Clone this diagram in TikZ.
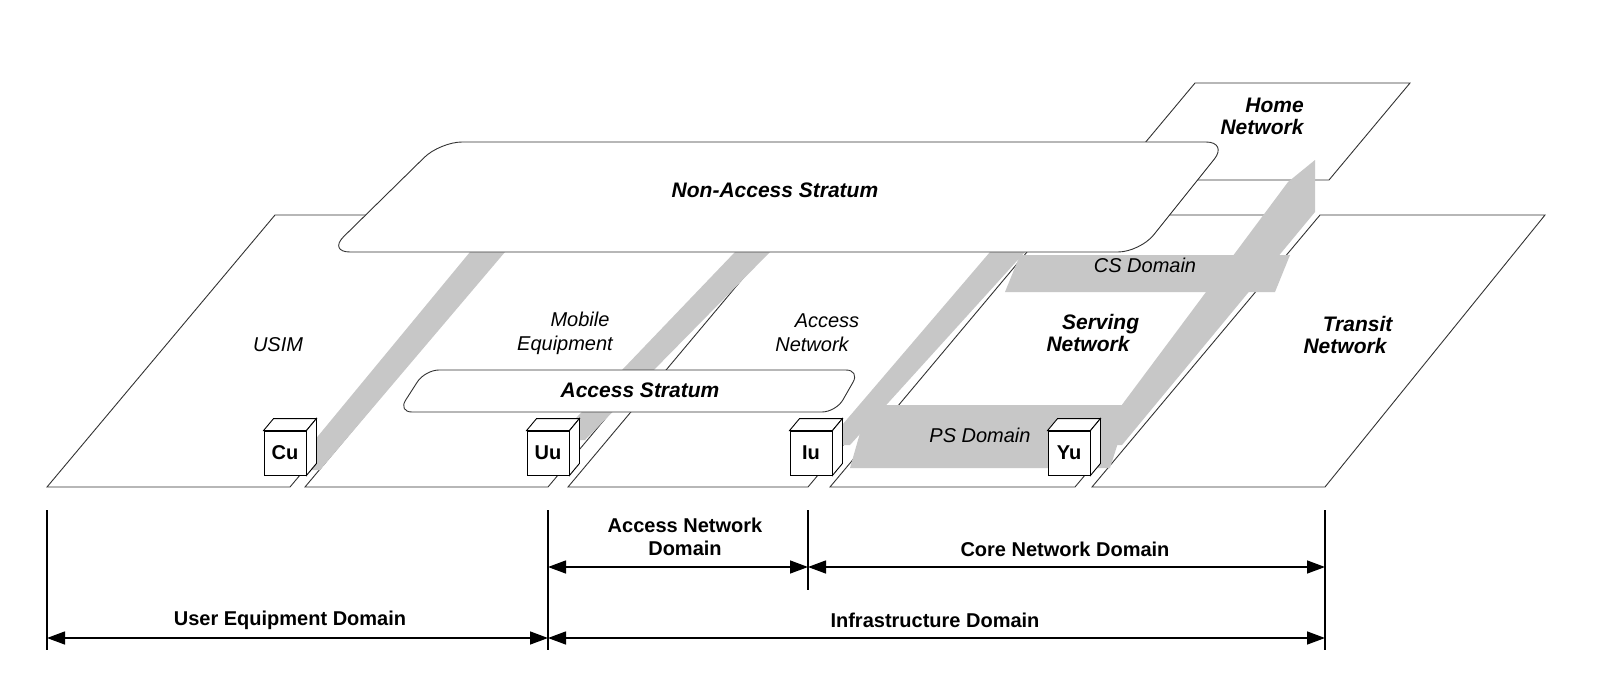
\documentclass[tikz,border=0pt]{standalone}
\usepackage{fontspec}
\setmainfont{Liberation Sans}
\usetikzlibrary{arrows.meta,calc}
\begin{document}
\begin{tikzpicture}[x=1pt,y=-1pt,
  plate/.style={draw=black!80,line width=0.9pt,fill=white},
  band/.style={fill=black!22,draw=none},
  lbl/.style={font=\fontsize{21}{22}\selectfont\bfseries\itshape,align=center,inner sep=0pt},
  dlbl/.style={font=\fontsize{20}{23}\selectfont\bfseries,align=center,inner sep=0pt},
  iface/.style={draw=black,line width=0.9pt,fill=white,minimum width=42,minimum height=44,inner sep=0pt,font=\fontsize{20}{20}\selectfont\bfseries},
  dim/.style={line width=1.4pt,{Triangle[length=18,width=13]}-{Triangle[length=18,width=13]}},
  vline/.style={line width=1.4pt}]
\useasboundingbox (0,0) rectangle (1610,699);
% home network
\draw[plate] (1114,180) -- (1195,83) -- (1410,83) -- (1329,180) -- cycle;
% plates
\draw[plate] (47,487) -- (275,215) -- (518,215) -- (290,487) -- cycle;
\draw[plate] (305,487) -- (533,215) -- (776,215) -- (548,487) -- cycle;
\draw[plate] (568,487) -- (796,215) -- (1036,215) -- (808,487) -- cycle;
\draw[plate] (830,487) -- (1058,215) -- (1303,215) -- (1075,487) -- cycle;
\draw[plate] (1092,487) -- (1320,215) -- (1545,215) -- (1325,487) -- cycle;
% gray bands
\fill[band] (290,470) -- (470,252) -- (505,252) -- (320,470) -- cycle;
\fill[band] (555,440) -- (735,252) -- (770,252) -- (585,440) -- cycle;
\fill[band] (825,445) -- (990,252) -- (1025,252) -- (850,445) -- cycle;
\fill[band] (1020,255) -- (1290,255) -- (1275,292) -- (1005,292) -- cycle;
\fill[band] (1092,445) -- (1288,182) -- (1315,160) -- (1315,212) -- (1122,445) -- cycle;
\fill[band] (868,405) -- (1130,405) -- (1110,468) -- (850,468) -- cycle;
% NAS
\draw[plate,rounded corners=22] (328,252) -- (440,142) -- (1228,142) -- (1140,252) -- cycle;
\node[lbl] (nas) at (775,190) {Non-Access Stratum};
% AS
\draw[plate,rounded corners=14] (398,412) -- (425,370) -- (860,370) -- (836,412) -- cycle;
\node[lbl] (as) at (640,390) {Access Stratum};
% labels
\node[lbl,font=\fontsize{20}{24}\selectfont\itshape] (usim) at (278,345) {USIM};
\node[lbl,font=\fontsize{20}{24}\selectfont\itshape] (me) at (565,333) {\hspace*{1.5em}Mobile\\Equipment};
\node[lbl,font=\fontsize{20}{24}\selectfont\itshape] (an) at (812,333) {\hspace*{1.5em}Access\\Network};
\node[lbl] (sn) at (1088,333) {\hspace*{1.2em}Serving\\Network};
\node[lbl] (tn) at (1345,335) {\hspace*{1.2em}Transit\\Network};
\node[lbl] (hn) at (1262,116) {\hspace*{1.2em}Home\\Network};
\node[lbl,font=\fontsize{20}{24}\selectfont\itshape] (cs) at (1145,265) {CS Domain};
\node[lbl,font=\fontsize{20}{24}\selectfont\itshape] (ps) at (980,435) {PS Domain};
% interface boxes
\foreach \n/\t/\x in {cu/Cu/285,uu/Uu/548,iu/Iu/811,yu/Yu/1069}{
  \node[iface] (\n) at (\x,453) {\t};
  \draw[line width=0.9pt,fill=white] (\n.north west) -- ($(\n.north west)+(10,-12)$) -- ($(\n.north east)+(10,-12)$) -- (\n.north east) -- cycle;
  \draw[line width=0.9pt,fill=white] (\n.north east) -- ($(\n.north east)+(10,-12)$) -- ($(\n.south east)+(10,-12)$) -- (\n.south east) -- cycle;
}
% dimension lines
\coordinate (a0) at (47,510); \coordinate (a1) at (47,650);
\coordinate (b0) at (548,510); \coordinate (b1) at (548,650);
\coordinate (c0) at (808,510); \coordinate (c1) at (808,590);
\coordinate (d0) at (1325,510); \coordinate (d1) at (1325,650);
\draw[vline] (a0) -- (a1); \draw[vline] (b0) -- (b1);
\draw[vline] (c0) -- (c1); \draw[vline] (d0) -- (d1);
\coordinate (u0) at (47,638); \coordinate (u1) at (548,638);
\coordinate (i1) at (1325,638);
\coordinate (n0) at (548,567); \coordinate (n1) at (808,567);
\coordinate (k1) at (1325,567);
\draw[dim] (u0) -- (u1);
\draw[dim] (u1) -- (i1);
\draw[dim] (n0) -- (n1);
\draw[dim] (n1) -- (k1);
\node[dlbl] (and) at (685,537) {Access Network\\Domain};
\node[dlbl] (cnd) at (1065,549) {Core Network Domain};
\node[dlbl] (ued) at (290,620) {User Equipment Domain};
\node[dlbl] (ifd) at (935,620) {Infrastructure Domain};
\end{tikzpicture}
\end{document}
